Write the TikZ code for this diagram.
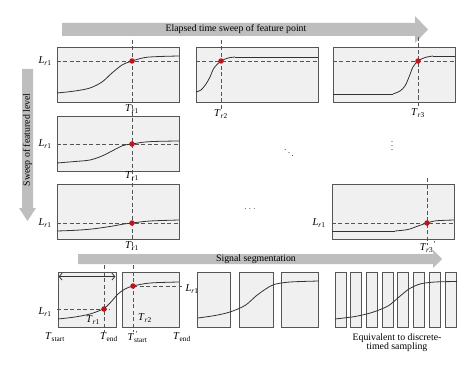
\documentclass[tikz,border=0pt]{standalone}
\usepackage{fontspec}
\setmainfont{Liberation Serif}
\usetikzlibrary{arrows.meta}
\definecolor{panelfill}{HTML}{F0F0F0}
\definecolor{edgec}{HTML}{555555}
\definecolor{arrowfill}{HTML}{BEBEBE}
\definecolor{dotred}{HTML}{C0141C}
\definecolor{curvec}{HTML}{333333}
\newcommand{\Tr}[1]{\textit{T}\textsubscript{\textit{r}#1}}
\newcommand{\Lr}[1]{\textit{L}\textsubscript{\textit{r}#1}}
\begin{document}
\begin{tikzpicture}[x=1pt,y=-1pt,
  panel/.style={draw=edgec, fill=panelfill, line width=0.8pt, inner sep=0pt},
  wide/.style={panel, minimum width=122pt, minimum height=55pt},
  banner/.style={fill=arrowfill, draw=none},
  curve/.style={draw=curvec, line width=0.8pt},
  guide/.style={draw=edgec, line width=0.8pt, dash pattern=on 4pt off 2.5pt},
  rdot/.style={circle, fill=dotred, inner sep=0pt, minimum size=5.5pt},
  lab/.style={font=\fontsize{10.5}{12}\selectfont, inner sep=0pt},
  captxt/.style={font=\fontsize{9.8}{11}\selectfont, inner sep=0pt},
  dotsc/.style={text=edgec, inner sep=0pt}]
\useasboundingbox (0,0) rectangle (474,369);

% ---- banners ----
\fill[banner] (62,23) -- (415,23) -- (415,16) -- (428,29.5) -- (415,43) -- (415,36) -- (62,36) -- cycle;
\node[captxt] (t1) at (236,29.5) {Elapsed time sweep of feature point};
\fill[banner] (22,69) -- (33,69) -- (33,208) -- (36,208) -- (27.5,221) -- (19,208) -- (22,208) -- cycle;
\node[captxt, rotate=90] (t2) at (27.5,140) {Sweep of featured level};
\fill[banner] (78,254) -- (433,254) -- (433,250) -- (442,259) -- (433,268) -- (433,264) -- (78,264) -- cycle;
\node[captxt] (t3) at (256,259) {Signal segmentation};

% ---- row 1 ----
\node[wide] (b1) at (118,74.5) {};
\node[wide] (b2) at (257,75) {};
\node[wide] (b3) at (394,74.5) {};
% ---- row 2 / 3 ----
\node[wide] (b4) at (118,143.5) {};
\node[wide] (b5) at (118,211.5) {};
\node[wide] (b6) at (393,211.5) {};

% guides
\draw[guide] (b1.west |- 0,61) -- (b1.east |- 0,61);
\draw[guide] (132,40) -- (132,250);
\draw[guide] (b2.west |- 0,61) -- (b2.east |- 0,61);
\draw[guide] (221,40) -- (221,110);
\draw[guide] (b3.west |- 0,61) -- (b3.east |- 0,61);
\draw[guide] (418,37) -- (418,108);
\draw[guide] (b4.west |- 0,144) -- (b4.east |- 0,144);
\draw[guide] (b5.west |- 0,223) -- (b5.east |- 0,223);
\draw[guide] (b6.west |- 0,223) -- (b6.east |- 0,223);
\draw[guide] (427,178) -- (427,245);

% curves
\draw[curve] plot[smooth] coordinates {(57,93)(75,91)(90,88)(102,82)(112,73)(122,65)(132,61)(145,57.5)(160,56.5)(179,56)};
\draw[curve] plot[smooth] coordinates {(196,92)(201,90)(206,84)(210,77)(214,68)(221,61)(228,58)(235,57)};
\draw[curve] (235,57) -- (318,57);
\draw[curve] (333,94) -- (393,94);
\draw[curve] plot[smooth] coordinates {(393,94)(400,91)(405,86)(409,77)(413,67)(418,61)(425,57.5)(433,56)};
\draw[curve] (433,56) -- (455,56);
\draw[curve] plot[smooth] coordinates {(57,163)(75,161.5)(90,160)(102,156)(112,151)(123,145.5)(132,144)(145,142)(160,141.3)(179,141)};
\draw[curve] plot[smooth] coordinates {(57,231)(75,230.3)(92,229)(110,226.5)(124,224)(132,223)(150,221)(179,220)};
\draw[curve] (332,231) -- (395,231);
\draw[curve] plot[smooth] coordinates {(395,231)(408,229.5)(418,226)(427,223)(436,220.8)(454,220)};

\node[rdot] (p1) at (132,61) {};
\node[rdot] (p2) at (221,61) {};
\node[rdot] (p3) at (418,61) {};
\node[rdot] (p4) at (132,144) {};
\node[rdot] (p5) at (132,223) {};
\node[rdot] (p6) at (427,223) {};

% labels
\node[lab] (l1) at (45,61) {\Lr{1}};
\node[lab] (l2) at (45,144) {\Lr{1}};
\node[lab] (l3) at (45,223) {\Lr{1}};
\node[lab] (l4) at (319,223) {\Lr{1}};
\node[lab] (tr1) at (132,109) {\Tr{1}};
\node[lab] (tr2) at (221,114) {\Tr{2}};
\node[lab] (tr3) at (418,113) {\Tr{3}};
\node[lab] (tr1b) at (132,176) {\Tr{1}};
\node[lab] (tr1c) at (132,246) {\Tr{1}};
\node[lab] (tr3b) at (428,247) {\Tr{3}\textsuperscript{’}};

% ellipses
\node[dotsc] (d1) at (289,150) {$\ddots$};
\node[dotsc] (d2) at (392,143) {$\vdots$};
\node[dotsc] (d3) at (250,209) {$\cdots$};

% ---- bottom: two-segment ----
\node[panel, minimum width=58pt, minimum height=55pt] (sA) at (87,299.5) {};
\node[panel, minimum width=57pt, minimum height=55pt] (sB) at (150.5,299.5) {};
\draw[{Straight Barb[length=3pt,width=7pt]}-{Straight Barb[length=3pt,width=7pt]}, draw=curvec, line width=0.8pt]
  ([xshift=1pt,yshift=-5pt]sA.north west) -- ([xshift=-1pt,yshift=-5pt]sA.north east);
\draw[guide] (104,265) -- (104,332);
\draw[guide] (133,265) -- (133,332);
\draw[guide] (57,309) -- (110,309);
\draw[guide] (133,286) -- (182,286);
\draw[curve] plot[smooth] coordinates {(58,319)(75,317)(90,314)(103,309)(110,303)(118,294)(125,289)(133,286)(150,283)(179,282)};
\node[rdot] (q1) at (104,309) {};
\node[rdot] (q2) at (133,286) {};
\node[lab] (m1) at (45,312) {\Lr{1}};
\node[lab] (m2) at (192,289) {\Lr{1}};
\node[lab] (m3) at (93,320) {\Tr{1}};
\node[lab] (m4) at (145,318) {\Tr{2}};
\node[lab] (m5) at (55,337) {\textit{T}\textsubscript{start}};
\node[lab] (m6) at (109,337) {\textit{T}\textsubscript{end}};
\node[lab] (m7) at (137.5,337) {\textit{T}\rlap{\textsuperscript{\,’}}\textsubscript{start}};
\node[lab] (m8) at (182,337) {\textit{T}\textsubscript{end}};

% ---- bottom: three segments ----
\node[panel, minimum width=33pt, minimum height=55pt] (c1) at (214,299.5) {};
\node[panel, minimum width=34pt, minimum height=55pt] (c2) at (256,299.5) {};
\node[panel, minimum width=37pt, minimum height=55pt] (c3) at (299.5,299.5) {};
\draw[curve] plot[smooth] coordinates {(198,318)(215,315.5)(230,312)(245,305.5)(256,296)(265,289.5)(274,284.5)(290,282)(319,281)};

% ---- bottom: eight samples ----
\foreach \i in {0,...,7}{
  \node[panel, minimum width=11pt, minimum height=55pt] (s\i) at (340.5+\i*15.7,299.5) {};
}
\draw[curve] plot[smooth] coordinates {(335,319)(355,316.5)(372,312.5)(388,306)(399,297)(409,289)(420,284)(435,282)(457,281.5)};
\node[captxt, align=center] (eq) at (397,342.5) {Equivalent to discrete-\\[-1.5pt]timed sampling};
\end{tikzpicture}
\end{document}
